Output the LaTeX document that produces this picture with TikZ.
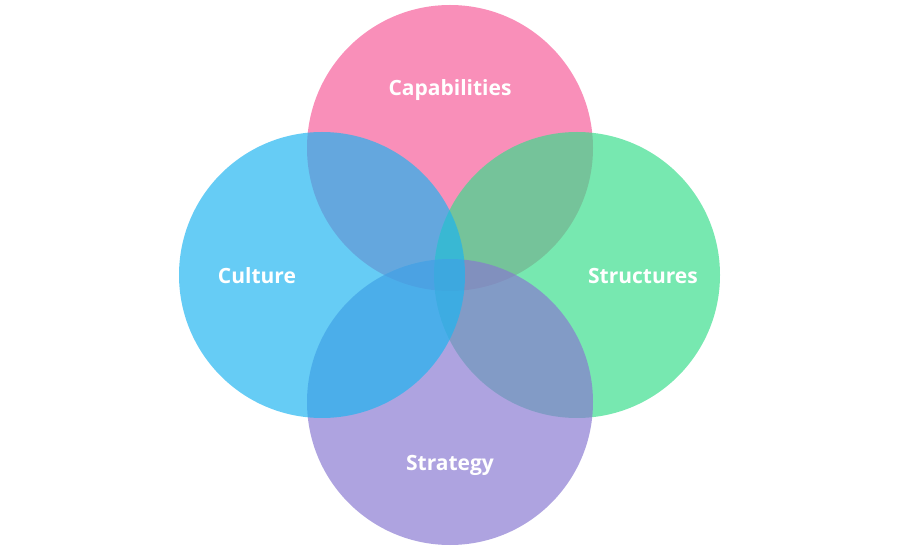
\documentclass[tikz,border=0pt]{standalone}
\usepackage{fontspec}
\setmainfont{Open Sans}
\usepackage{tikz}

\definecolor{capcol}{RGB}{246,90,152}
\definecolor{strucol}{RGB}{55,221,139}
\definecolor{stratcol}{RGB}{136,120,209}
\definecolor{cultcol}{RGB}{30,180,240}

\begin{document}
\begin{tikzpicture}[x=1pt, y=1pt,
    every node/.style={font=\bfseries\fontsize{21}{25}\selectfont, text=white},
    blob/.style={circle, fill opacity=0.68, minimum size=286pt, inner sep=0pt}]
          \useasboundingbox (0, 0) rectangle (900, 552);
          % the four circles, back to front
          \node[blob, fill=capcol] (C1) at (450, 404) {};
          \node[blob, fill=strucol] (S1) at (577, 277) {};
          \node[blob, fill=stratcol] (T1) at (450, 150) {};
          \node[blob, fill=cultcol] (K1) at (322, 277) {};

          \node (C2) at (450, 462) {Capabilities};
          \node (S2) at (643, 276) {Structures};
          \node (T2) at (450, 87) {Strategy};
          \node (K2) at (257, 276) {Culture};
        \end{tikzpicture}
\end{document}
